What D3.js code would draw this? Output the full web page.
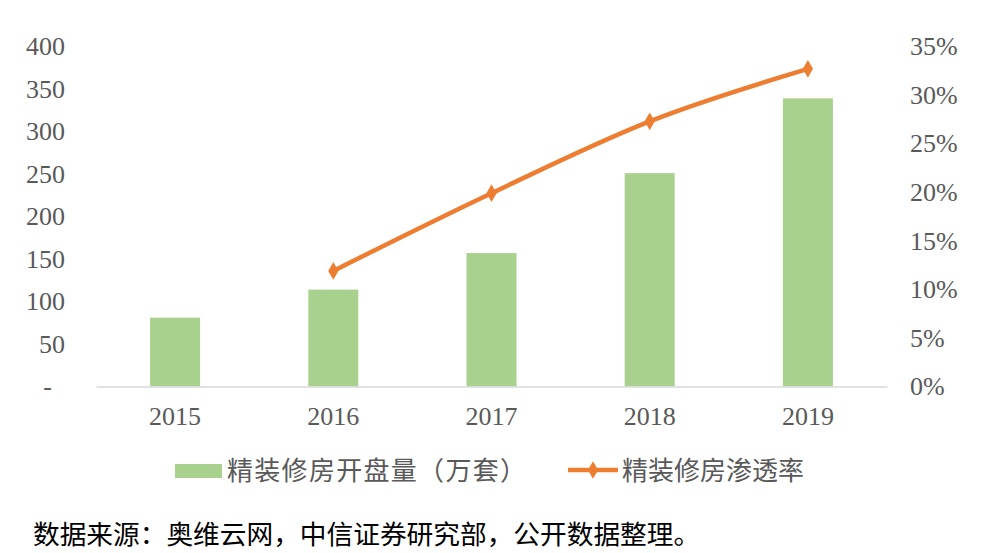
<!DOCTYPE html>
<html>
<head>
<meta charset="utf-8">
<script src="https://cdn.jsdelivr.net/npm/d3@7"></script>
<style>
  html, body { margin: 0; padding: 0; background: #fff; }
  svg { display: block; }
</style>
</head>
<body>
<svg id="chart" width="984" height="553"></svg>
<script>
// ---- Data ----
const years = ["2015", "2016", "2017", "2018", "2019"];
const openings = [81, 114, 157, 251, 339];            // 精装修房开盘量（万套）
const penetration = [null, 0.119, 0.199, 0.273, 0.327]; // 精装修房渗透率
const leftTicks = [0, 50, 100, 150, 200, 250, 300, 350, 400];
const rightTicks = [0, 0.05, 0.10, 0.15, 0.20, 0.25, 0.30, 0.35];
const barLabel = "精装修房开盘量（万套）";
const lineLabel = "精装修房渗透率";
const sourceText = "数据来源：奥维云网，中信证券研究部，公开数据整理。";

// ---- Layout ----
const svg = d3.select("#chart");
const plot = { left: 96, right: 887, top: 46.5, bottom: 386.5 };
const greyText = "#595959";
const serif = "'Liberation Serif','Times New Roman',serif";
const cjk = "'Noto Sans CJK SC','Noto Sans',sans-serif";
const barColor = "#A9D18E";
const lineColor = "#ED7D31";

const x = d3.scaleBand().domain(years).range([plot.left, plot.right]).paddingInner(0.684).paddingOuter(0.342);
const yL = d3.scaleLinear().domain([0, 400]).range([plot.bottom, plot.top]);
const yR = d3.scaleLinear().domain([0, 0.35]).range([plot.bottom, plot.top]);

// Bars
svg.append("g").selectAll("rect")
  .data(years.map((y, i) => ({ year: y, v: openings[i] })))
  .join("rect")
  .attr("x", d => x(d.year))
  .attr("width", x.bandwidth())
  .attr("y", d => yL(d.v))
  .attr("height", d => yL(0) - yL(d.v))
  .attr("fill", barColor);

// Bottom axis
const gx = svg.append("g")
  .attr("transform", `translate(0,${plot.bottom})`)
  .call(d3.axisBottom(x).tickSize(0).tickPadding(20).tickSizeOuter(0));
gx.select(".domain").attr("stroke", "#D9D9D9").attr("stroke-width", 1.5);
gx.selectAll("text").attr("font-family", serif).attr("font-size", 26).attr("fill", greyText);

// Left axis
const gl = svg.append("g")
  .attr("transform", `translate(${plot.left},0)`)
  .call(d3.axisLeft(yL).tickValues(leftTicks).tickSize(0).tickPadding(31)
    .tickFormat(d => d === 0 ? "-" : d3.format("d")(d)));
gl.select(".domain").remove();
gl.selectAll("text").attr("font-family", serif).attr("font-size", 26).attr("fill", greyText);
gl.selectAll(".tick").filter(d => d === 0).select("text").attr("dx", -13);

// Right axis
const gr = svg.append("g")
  .attr("transform", `translate(${plot.right},0)`)
  .call(d3.axisRight(yR).tickValues(rightTicks).tickSize(0).tickPadding(23)
    .tickFormat(d3.format(".0%")));
gr.select(".domain").remove();
gr.selectAll("text").attr("font-family", serif).attr("font-size", 26).attr("fill", greyText);

// Line
const linePts = years.map((y, i) => ({ year: y, v: penetration[i] })).filter(d => d.v != null);
const line = d3.line()
  .x(d => x(d.year) + x.bandwidth() / 2)
  .y(d => yR(d.v))
  .curve(d3.curveCardinal.tension(0));
svg.append("path")
  .datum(linePts)
  .attr("d", line)
  .attr("fill", "none")
  .attr("stroke", lineColor)
  .attr("stroke-width", 4.5)
  .attr("stroke-linejoin", "round");

const diamond = d3.symbol().type(d3.symbolDiamond).size(90);
svg.append("g").selectAll("path")
  .data(linePts)
  .join("path")
  .attr("d", diamond)
  .attr("transform", d => `translate(${x(d.year) + x.bandwidth() / 2},${yR(d.v)})`)
  .attr("fill", lineColor);

// Legend
const lg = svg.append("g");
lg.append("rect").attr("x", 175).attr("y", 464).attr("width", 47).attr("height", 14).attr("fill", barColor);
lg.append("text").attr("x", 227).attr("y", 471).attr("dy", "0.36em")
  .attr("font-family", cjk).attr("font-size", 26).attr("letter-spacing", 1.3)
  .attr("fill", greyText).text(barLabel);
lg.append("line").attr("x1", 568).attr("x2", 618).attr("y1", 470).attr("y2", 470)
  .attr("stroke", lineColor).attr("stroke-width", 4.5);
lg.append("path").attr("d", diamond).attr("transform", "translate(593,470)").attr("fill", lineColor);
lg.append("text").attr("x", 622).attr("y", 471).attr("dy", "0.36em")
  .attr("font-family", cjk).attr("font-size", 26).attr("fill", greyText).text(lineLabel);

// Source note
svg.append("text").attr("x", 33).attr("y", 534).attr("dy", "0.36em")
  .attr("font-family", cjk).attr("font-size", 26.7).attr("fill", "#000").text(sourceText);
</script>
</body>
</html>
